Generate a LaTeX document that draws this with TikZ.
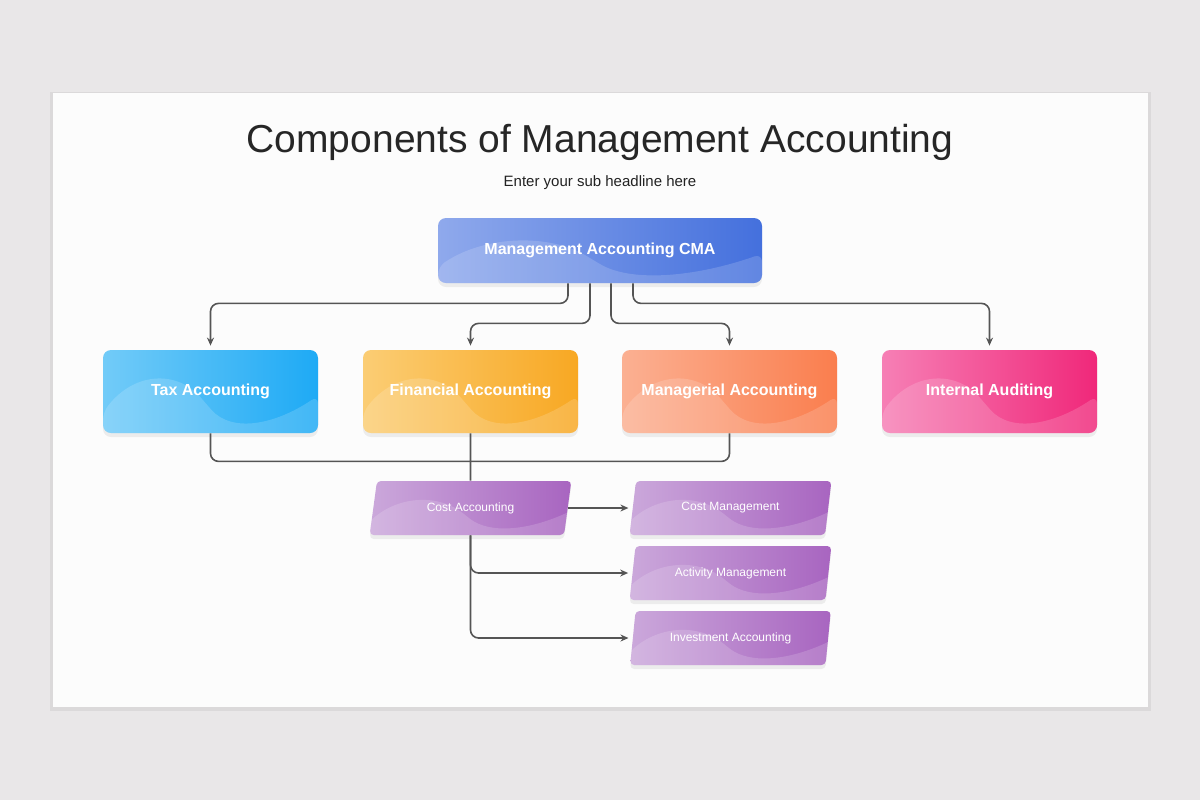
\documentclass[tikz,border=0pt]{standalone}
\usepackage{fontspec}
\setmainfont{Liberation Sans}
\usetikzlibrary{shapes.geometric,calc,arrows.meta,shadows}
\definecolor{bg}{HTML}{E9E7E8}
\definecolor{card}{HTML}{FCFCFC}
\definecolor{ln}{HTML}{555555}
\definecolor{topL}{HTML}{8FA9EC}\definecolor{topR}{HTML}{4470DD}
\definecolor{taxL}{HTML}{72CBF8}\definecolor{taxR}{HTML}{1EAAF5}
\definecolor{finL}{HTML}{FBCD74}\definecolor{finR}{HTML}{F8A823}
\definecolor{manL}{HTML}{FBB092}\definecolor{manR}{HTML}{FA7E4E}
\definecolor{intL}{HTML}{F67FB5}\definecolor{intR}{HTML}{F0287A}
\definecolor{purL}{HTML}{CBA8DB}\definecolor{purR}{HTML}{A865C0}
\tikzset{
  wave/.style={path picture={\fill[white,opacity=.16] let \p1=(path picture bounding box.south west), \p2=(path picture bounding box.north east), \n1={\x2-\x1}, \n2={\y2-\y1} in
    (\x1,\y1+0.25*\n2) .. controls (\x1+0.15*\n1,\y1+0.75*\n2) and (\x1+0.35*\n1,\y1+0.75*\n2) .. (\x1+0.48*\n1,\y1+0.35*\n2)
    .. controls (\x1+0.6*\n1,\y1) and (\x1+0.8*\n1,\y1+0.1*\n2) .. (\x2,\y1+0.45*\n2) -- (\x2,\y1) -- (\x1,\y1) -- cycle;}},
  box/.style 2 args={rectangle,rounded corners=4pt,minimum width=107.5pt,minimum height=41.5pt,left color=#1,right color=#2,
    text=white,font=\bfseries\fontsize{8}{9}\selectfont,drop shadow={opacity=.12,shadow xshift=0pt,shadow yshift=-2pt},wave},
  para/.style={trapezium,trapezium stretches=true,trapezium left angle=73,trapezium right angle=107,minimum width=101pt,minimum height=27pt,
    rounded corners=2pt,left color=purL,right color=purR,text=white,font=\fontsize{6}{7}\selectfont,inner sep=0pt,
    drop shadow={opacity=.12,shadow xshift=0pt,shadow yshift=-2pt},wave},
  conn/.style={draw=ln,line width=0.8pt,rounded corners=4pt},
  arr/.style={conn,-{Stealth[length=4pt,width=3.5pt]}}
}
\begin{document}
\begin{tikzpicture}[x=0.5pt,y=-0.5pt]
\fill[bg] (0,0) rectangle (1200,800);
\fill[black,opacity=.06] (50,92) rectangle (1151,711);
\fill[card] (53,93) rectangle (1148,707);
\node (title) at (600,142) {\fontsize{19.5}{22}\selectfont\color[HTML]{262626}Components of Management Accounting};
\node (sub) at (600,183) {\fontsize{7.5}{9}\selectfont\color[HTML]{222222}Enter your sub headline here};
\node[box={topL}{topR},minimum width=162pt,minimum height=32.5pt] (top) at (600,250.5) {Management Accounting CMA};
\node[box={taxL}{taxR}] (tax) at (210.5,391.5) {Tax Accounting};
\node[box={finL}{finR}] (fin) at (470.5,391.5) {Financial Accounting};
\node[box={manL}{manR}] (man) at (729.5,391.5) {Managerial Accounting};
\node[box={intL}{intR}] (int) at (989.5,391.5) {Internal Auditing};
\node[para] (cost) at (470.5,508) {Cost Accounting};
\node[para] (cm) at (730.5,508) {Cost Management};
\node[para] (am) at (730.5,573) {Activity Management};
\node[para] (ia) at (730.5,638) {Investment Accounting};
\draw[arr] ($(top.south)+(-32,0)$) -- ++(0,20) -| ($(tax.north)+(0,-4)$);
\draw[arr] ($(top.south)+(-10,0)$) -- ++(0,40) -| ($(fin.north)+(0,-4)$);
\draw[arr] ($(top.south)+(11,0)$) -- ++(0,40) -| ($(man.north)+(0,-4)$);
\draw[arr] ($(top.south)+(33,0)$) -- ++(0,20) -| ($(int.north)+(0,-4)$);
\draw[conn] (tax.south) -- ++(0,28) -| (man.south);
\draw[conn] (fin.south) -- (cost.north);
\draw[arr] (cost.east) -- ($(cm.west)+(-4,0)$);
\draw[arr] (cost.south) |- ($(am.west)+(-4,0)$);
\draw[arr] (cost.south) |- ($(ia.west)+(-4,0)$);
\end{tikzpicture}
\end{document}
